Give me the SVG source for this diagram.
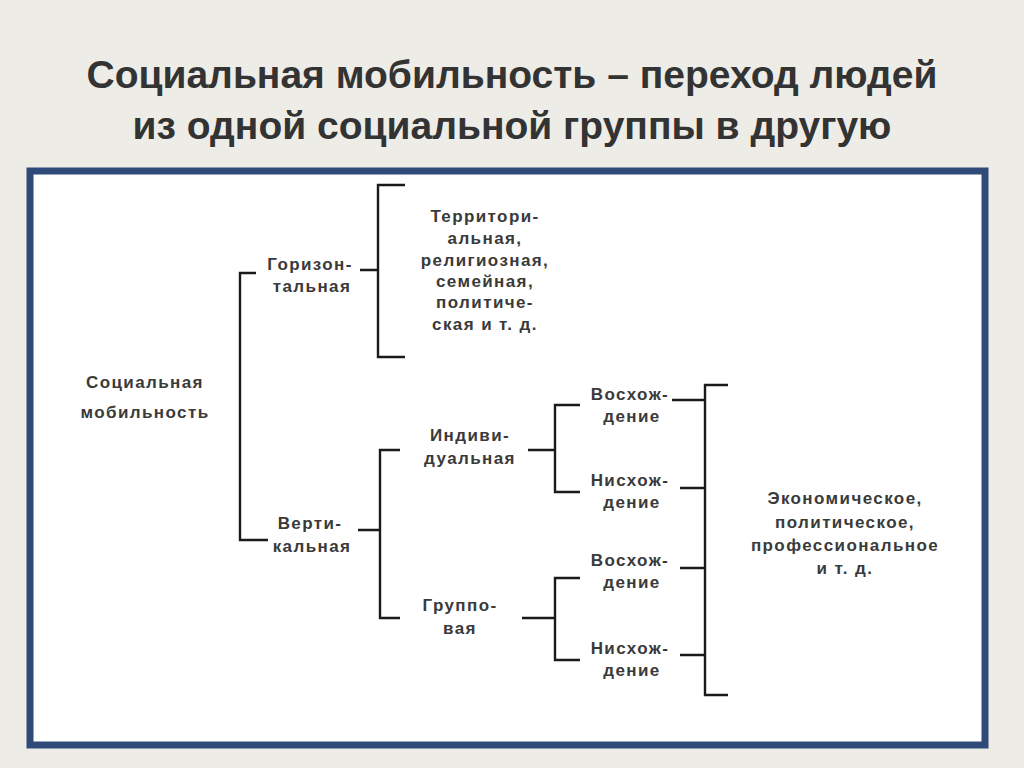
<svg xmlns="http://www.w3.org/2000/svg" width="1024" height="768" viewBox="0 0 1024 768">
<style>
.t{font-family:"Liberation Sans",Arial,sans-serif;font-weight:bold;font-size:39px;fill:#333;text-anchor:middle}
.n{font-family:"Liberation Sans",Arial,sans-serif;font-weight:bold;font-size:17px;letter-spacing:1.4px;fill:#3a3a3a;text-anchor:middle}
.c{stroke:#1a1a1a;stroke-width:2.4;fill:none}
</style>
<rect width="1024" height="768" fill="#edece7"/>
<text class="t" x="512" y="88">Социальная мобильность – переход людей</text>
<text class="t" x="512" y="139">из одной социальной группы в другую</text>
<rect x="30" y="171" width="955" height="574" fill="#fff" stroke="#2f4a78" stroke-width="7"/>
<g id="connectors">
<path class="c" d="M256,273H240V540H268"/>
<path class="c" d="M360,270H378M405,185H378V357H405"/>
<path class="c" d="M358,530H380M400,450H380V618H400"/>
<path class="c" d="M528,450H555M580,405H555V492H580"/>
<path class="c" d="M522,618H555M580,578H555V660H580"/>
<path class="c" d="M672,400H705M680,488H705M680,568H705M680,655H705M728,385H705V695H728"/>
</g>
<g id="n1"><text class="n" x="145" y="388">Социальная</text><text class="n" x="145" y="418">мобильность</text></g>
<g id="n2"><text class="n" x="310" y="270">Горизон-</text><text class="n" x="312" y="292">тальная</text></g>
<g id="n3"><text class="n" x="485" y="222">Территори-</text><text class="n" x="485" y="244">альная,</text><text class="n" x="485" y="266">религиозная,</text><text class="n" x="485" y="287">семейная,</text><text class="n" x="485" y="308">политиче-</text><text class="n" x="485" y="330">ская и т. д.</text></g>
<g id="n4"><text class="n" x="310" y="529">Верти-</text><text class="n" x="312" y="552">кальная</text></g>
<g id="n5"><text class="n" x="470" y="441">Индиви-</text><text class="n" x="470" y="464">дуальная</text></g>
<g id="n6"><text class="n" x="460" y="611">Группо-</text><text class="n" x="460" y="634">вая</text></g>
<g id="n7"><text class="n" x="630" y="400">Восхож-</text><text class="n" x="632" y="422">дение</text></g>
<g id="n8"><text class="n" x="630" y="486">Нисхож-</text><text class="n" x="632" y="508">дение</text></g>
<g id="n9"><text class="n" x="630" y="566">Восхож-</text><text class="n" x="632" y="588">дение</text></g>
<g id="n10"><text class="n" x="630" y="654">Нисхож-</text><text class="n" x="632" y="676">дение</text></g>
<g id="n11"><text class="n" x="845" y="504">Экономическое,</text><text class="n" x="845" y="528">политическое,</text><text class="n" x="845" y="551">профессиональное</text><text class="n" x="845" y="574">и т. д.</text></g>
</svg>
